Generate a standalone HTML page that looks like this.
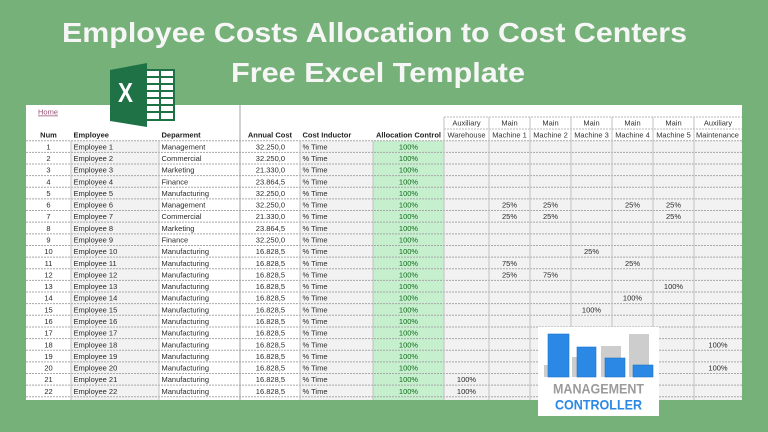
<!DOCTYPE html>
<html><head><meta charset="utf-8"><style>
html,body{margin:0;padding:0;background:#75b178;}
svg{display:block;}
.t{font-family:"Liberation Sans",Arial,sans-serif;}
.m{text-anchor:middle}
.e{text-anchor:end}
.g{fill:#0f6b1a}
</style></head><body>
<svg width="768" height="432" viewBox="0 0 768 432" xmlns="http://www.w3.org/2000/svg" class="t" font-family="Liberation Sans, Arial, sans-serif">
<rect width="768" height="432" fill="#75b178"/>
<text x="62" y="42" font-size="28" font-weight="bold" fill="#f6f6f6" textLength="625" lengthAdjust="spacingAndGlyphs">Employee Costs Allocation to Cost Centers</text>
<text x="231" y="82" font-size="28" font-weight="bold" fill="#f6f6f6" textLength="294" lengthAdjust="spacingAndGlyphs">Free Excel Template</text>
<defs><clipPath id="s"><rect x="26" y="105" width="716" height="295"/></clipPath></defs>
<g clip-path="url(#s)">
<rect x="26" y="105" width="716" height="295" fill="#ffffff"/>
<rect x="71" y="140.7" width="88" height="260" fill="#f2f2f2"/>
<rect x="300" y="140.7" width="73" height="260" fill="#f2f2f2"/>
<rect x="373" y="140.7" width="71" height="260" fill="#c6efce"/>
<rect x="444" y="140.7" width="298" height="260" fill="#f2f2f2"/>
<path d="M26 140.7H742M26 152.34H742M26 163.98H742M26 175.62H742M26 187.26H742M26 198.9H742M26 210.54H742M26 222.18H742M26 233.82H742M26 245.46H742M26 257.1H742M26 268.74H742M26 280.38H742M26 292.02H742M26 303.66H742M26 315.3H742M26 326.94H742M26 338.58H742M26 350.22H742M26 361.86H742M26 373.5H742M26 385.14H742M26 396.78H742" stroke="#a8a8a8" stroke-width="1" stroke-dasharray="2 1" fill="none"/>
<path d="M444 117H742M444 129H742" stroke="#b8b8b8" stroke-width="1" stroke-dasharray="2 1" fill="none"/>
<path d="M71 140.7V400M159 140.7V400M300 140.7V400M373 140.7V400M444 117V400M489 117V400M530 117V400M571 117V400M612 117V400M653 117V400M694 117V400" stroke="#c2c2c2" stroke-width="1" fill="none"/>
<path d="M240 105V400" stroke="#a0a0a0" stroke-width="1" fill="none"/>
<text x="38" y="114.5" font-size="7.5" fill="#954f72" text-decoration="underline">Home</text>
<g font-size="7.5" fill="#333">
<text class="m" x="466.5" y="125.7">Auxiliary</text>
<text class="m" x="509.5" y="125.7">Main</text>
<text class="m" x="550.5" y="125.7">Main</text>
<text class="m" x="591.5" y="125.7">Main</text>
<text class="m" x="632.5" y="125.7">Main</text>
<text class="m" x="673.5" y="125.7">Main</text>
<text class="m" x="718" y="125.7">Auxiliary</text>
<text class="m" x="466.5" y="137.5">Warehouse</text>
<text class="m" x="509.5" y="137.5">Machine 1</text>
<text class="m" x="550.5" y="137.5">Machine 2</text>
<text class="m" x="591.5" y="137.5">Machine 3</text>
<text class="m" x="632.5" y="137.5">Machine 4</text>
<text class="m" x="673.5" y="137.5">Machine 5</text>
<text x="696" y="137.5">Maintenance</text>
</g>
<g font-size="7.5" font-weight="bold" fill="#222">
<text class="m" x="48.5" y="137.5">Num</text>
<text x="73.5" y="137.5">Employee</text>
<text x="161.5" y="137.5">Deparment</text>
<text class="e" x="292" y="137.5">Annual Cost</text>
<text x="302.5" y="137.5">Cost Inductor</text>
<text x="376" y="137.5" textLength="65" lengthAdjust="spacingAndGlyphs">Allocation Control</text>
</g>
<g font-size="7.5" fill="#2a2a2a">
<g transform="translate(0,140.7)"><text class="m" x="48.5" y="8.7">1</text><text x="73.5" y="8.7">Employee 1</text><text x="161.5" y="8.7">Management</text><text class="e" x="285" y="8.7">32.250,0</text><text x="302.5" y="8.7">% Time</text><text class="m g" x="408.5" y="8.7">100%</text></g>
<g transform="translate(0,152.34)"><text class="m" x="48.5" y="8.7">2</text><text x="73.5" y="8.7">Employee 2</text><text x="161.5" y="8.7">Commercial</text><text class="e" x="285" y="8.7">32.250,0</text><text x="302.5" y="8.7">% Time</text><text class="m g" x="408.5" y="8.7">100%</text></g>
<g transform="translate(0,163.98)"><text class="m" x="48.5" y="8.7">3</text><text x="73.5" y="8.7">Employee 3</text><text x="161.5" y="8.7">Marketing</text><text class="e" x="285" y="8.7">21.330,0</text><text x="302.5" y="8.7">% Time</text><text class="m g" x="408.5" y="8.7">100%</text></g>
<g transform="translate(0,175.62)"><text class="m" x="48.5" y="8.7">4</text><text x="73.5" y="8.7">Employee 4</text><text x="161.5" y="8.7">Finance</text><text class="e" x="285" y="8.7">23.864,5</text><text x="302.5" y="8.7">% Time</text><text class="m g" x="408.5" y="8.7">100%</text></g>
<g transform="translate(0,187.26)"><text class="m" x="48.5" y="8.7">5</text><text x="73.5" y="8.7">Employee 5</text><text x="161.5" y="8.7">Manufacturing</text><text class="e" x="285" y="8.7">32.250,0</text><text x="302.5" y="8.7">% Time</text><text class="m g" x="408.5" y="8.7">100%</text></g>
<g transform="translate(0,198.9)"><text class="m" x="48.5" y="8.7">6</text><text x="73.5" y="8.7">Employee 6</text><text x="161.5" y="8.7">Management</text><text class="e" x="285" y="8.7">32.250,0</text><text x="302.5" y="8.7">% Time</text><text class="m g" x="408.5" y="8.7">100%</text><text class="m" x="509.5" y="8.7">25%</text><text class="m" x="550.5" y="8.7">25%</text><text class="m" x="632.5" y="8.7">25%</text><text class="m" x="673.5" y="8.7">25%</text></g>
<g transform="translate(0,210.54)"><text class="m" x="48.5" y="8.7">7</text><text x="73.5" y="8.7">Employee 7</text><text x="161.5" y="8.7">Commercial</text><text class="e" x="285" y="8.7">21.330,0</text><text x="302.5" y="8.7">% Time</text><text class="m g" x="408.5" y="8.7">100%</text><text class="m" x="509.5" y="8.7">25%</text><text class="m" x="550.5" y="8.7">25%</text><text class="m" x="673.5" y="8.7">25%</text></g>
<g transform="translate(0,222.18)"><text class="m" x="48.5" y="8.7">8</text><text x="73.5" y="8.7">Employee 8</text><text x="161.5" y="8.7">Marketing</text><text class="e" x="285" y="8.7">23.864,5</text><text x="302.5" y="8.7">% Time</text><text class="m g" x="408.5" y="8.7">100%</text></g>
<g transform="translate(0,233.82)"><text class="m" x="48.5" y="8.7">9</text><text x="73.5" y="8.7">Employee 9</text><text x="161.5" y="8.7">Finance</text><text class="e" x="285" y="8.7">32.250,0</text><text x="302.5" y="8.7">% Time</text><text class="m g" x="408.5" y="8.7">100%</text></g>
<g transform="translate(0,245.46)"><text class="m" x="48.5" y="8.7">10</text><text x="73.5" y="8.7">Employee 10</text><text x="161.5" y="8.7">Manufacturing</text><text class="e" x="285" y="8.7">16.828,5</text><text x="302.5" y="8.7">% Time</text><text class="m g" x="408.5" y="8.7">100%</text><text class="m" x="591.5" y="8.7">25%</text></g>
<g transform="translate(0,257.1)"><text class="m" x="48.5" y="8.7">11</text><text x="73.5" y="8.7">Employee 11</text><text x="161.5" y="8.7">Manufacturing</text><text class="e" x="285" y="8.7">16.828,5</text><text x="302.5" y="8.7">% Time</text><text class="m g" x="408.5" y="8.7">100%</text><text class="m" x="509.5" y="8.7">75%</text><text class="m" x="632.5" y="8.7">25%</text></g>
<g transform="translate(0,268.74)"><text class="m" x="48.5" y="8.7">12</text><text x="73.5" y="8.7">Employee 12</text><text x="161.5" y="8.7">Manufacturing</text><text class="e" x="285" y="8.7">16.828,5</text><text x="302.5" y="8.7">% Time</text><text class="m g" x="408.5" y="8.7">100%</text><text class="m" x="509.5" y="8.7">25%</text><text class="m" x="550.5" y="8.7">75%</text></g>
<g transform="translate(0,280.38)"><text class="m" x="48.5" y="8.7">13</text><text x="73.5" y="8.7">Employee 13</text><text x="161.5" y="8.7">Manufacturing</text><text class="e" x="285" y="8.7">16.828,5</text><text x="302.5" y="8.7">% Time</text><text class="m g" x="408.5" y="8.7">100%</text><text class="m" x="673.5" y="8.7">100%</text></g>
<g transform="translate(0,292.02)"><text class="m" x="48.5" y="8.7">14</text><text x="73.5" y="8.7">Employee 14</text><text x="161.5" y="8.7">Manufacturing</text><text class="e" x="285" y="8.7">16.828,5</text><text x="302.5" y="8.7">% Time</text><text class="m g" x="408.5" y="8.7">100%</text><text class="m" x="632.5" y="8.7">100%</text></g>
<g transform="translate(0,303.66)"><text class="m" x="48.5" y="8.7">15</text><text x="73.5" y="8.7">Employee 15</text><text x="161.5" y="8.7">Manufacturing</text><text class="e" x="285" y="8.7">16.828,5</text><text x="302.5" y="8.7">% Time</text><text class="m g" x="408.5" y="8.7">100%</text><text class="m" x="591.5" y="8.7">100%</text></g>
<g transform="translate(0,315.3)"><text class="m" x="48.5" y="8.7">16</text><text x="73.5" y="8.7">Employee 16</text><text x="161.5" y="8.7">Manufacturing</text><text class="e" x="285" y="8.7">16.828,5</text><text x="302.5" y="8.7">% Time</text><text class="m g" x="408.5" y="8.7">100%</text></g>
<g transform="translate(0,326.94)"><text class="m" x="48.5" y="8.7">17</text><text x="73.5" y="8.7">Employee 17</text><text x="161.5" y="8.7">Manufacturing</text><text class="e" x="285" y="8.7">16.828,5</text><text x="302.5" y="8.7">% Time</text><text class="m g" x="408.5" y="8.7">100%</text></g>
<g transform="translate(0,338.58)"><text class="m" x="48.5" y="8.7">18</text><text x="73.5" y="8.7">Employee 18</text><text x="161.5" y="8.7">Manufacturing</text><text class="e" x="285" y="8.7">16.828,5</text><text x="302.5" y="8.7">% Time</text><text class="m g" x="408.5" y="8.7">100%</text><text class="m" x="718" y="8.7">100%</text></g>
<g transform="translate(0,350.22)"><text class="m" x="48.5" y="8.7">19</text><text x="73.5" y="8.7">Employee 19</text><text x="161.5" y="8.7">Manufacturing</text><text class="e" x="285" y="8.7">16.828,5</text><text x="302.5" y="8.7">% Time</text><text class="m g" x="408.5" y="8.7">100%</text></g>
<g transform="translate(0,361.86)"><text class="m" x="48.5" y="8.7">20</text><text x="73.5" y="8.7">Employee 20</text><text x="161.5" y="8.7">Manufacturing</text><text class="e" x="285" y="8.7">16.828,5</text><text x="302.5" y="8.7">% Time</text><text class="m g" x="408.5" y="8.7">100%</text><text class="m" x="718" y="8.7">100%</text></g>
<g transform="translate(0,373.5)"><text class="m" x="48.5" y="8.7">21</text><text x="73.5" y="8.7">Employee 21</text><text x="161.5" y="8.7">Manufacturing</text><text class="e" x="285" y="8.7">16.828,5</text><text x="302.5" y="8.7">% Time</text><text class="m g" x="408.5" y="8.7">100%</text><text class="m" x="466.5" y="8.7">100%</text></g>
<g transform="translate(0,385.14)"><text class="m" x="48.5" y="8.7">22</text><text x="73.5" y="8.7">Employee 22</text><text x="161.5" y="8.7">Manufacturing</text><text class="e" x="285" y="8.7">16.828,5</text><text x="302.5" y="8.7">% Time</text><text class="m g" x="408.5" y="8.7">100%</text><text class="m" x="466.5" y="8.7">100%</text></g>
</g>
</g>
<!-- Excel logo -->
<g>
<rect x="146" y="70" width="28" height="50" fill="#ffffff" stroke="#1e7145" stroke-width="2"/>
<path d="M160 70V120M146 77H174M146 84H174M146 91H174M146 98H174M146 105H174M146 112H174" stroke="#1e7145" stroke-width="2" fill="none"/>
<polygon points="110,70 147,63 147,127 110,121" fill="#1f7246"/>
<text x="118" y="102" font-size="28" font-weight="bold" fill="#ffffff" textLength="15" lengthAdjust="spacingAndGlyphs">X</text>
</g>
<!-- Management Controller logo -->
<g>
<rect x="538" y="327" width="121" height="89" fill="#ffffff"/>
<rect x="544" y="365" width="21" height="12" fill="#cdcdcd"/>
<rect x="548" y="334" width="21" height="43" fill="#2b88e4" stroke="#1f75cc" stroke-width="0.6"/>
<rect x="572" y="357" width="20" height="20" fill="#cdcdcd"/>
<rect x="577" y="347" width="19" height="30" fill="#2b88e4" stroke="#1f75cc" stroke-width="0.6"/>
<rect x="601" y="346" width="20" height="31" fill="#cdcdcd"/>
<rect x="605" y="358" width="20" height="19" fill="#2b88e4" stroke="#1f75cc" stroke-width="0.6"/>
<rect x="629" y="334" width="20" height="43" fill="#cdcdcd"/>
<rect x="633" y="365" width="20" height="12" fill="#2b88e4" stroke="#1f75cc" stroke-width="0.6"/>
<text x="553" y="393.5" font-size="14" font-weight="bold" fill="#9b9b9b" textLength="91" lengthAdjust="spacingAndGlyphs">MANAGEMENT</text>
<text x="555" y="409.5" font-size="14" font-weight="bold" fill="#2b88e4" textLength="87" lengthAdjust="spacingAndGlyphs">CONTROLLER</text>
</g>
</svg>
</body></html>
